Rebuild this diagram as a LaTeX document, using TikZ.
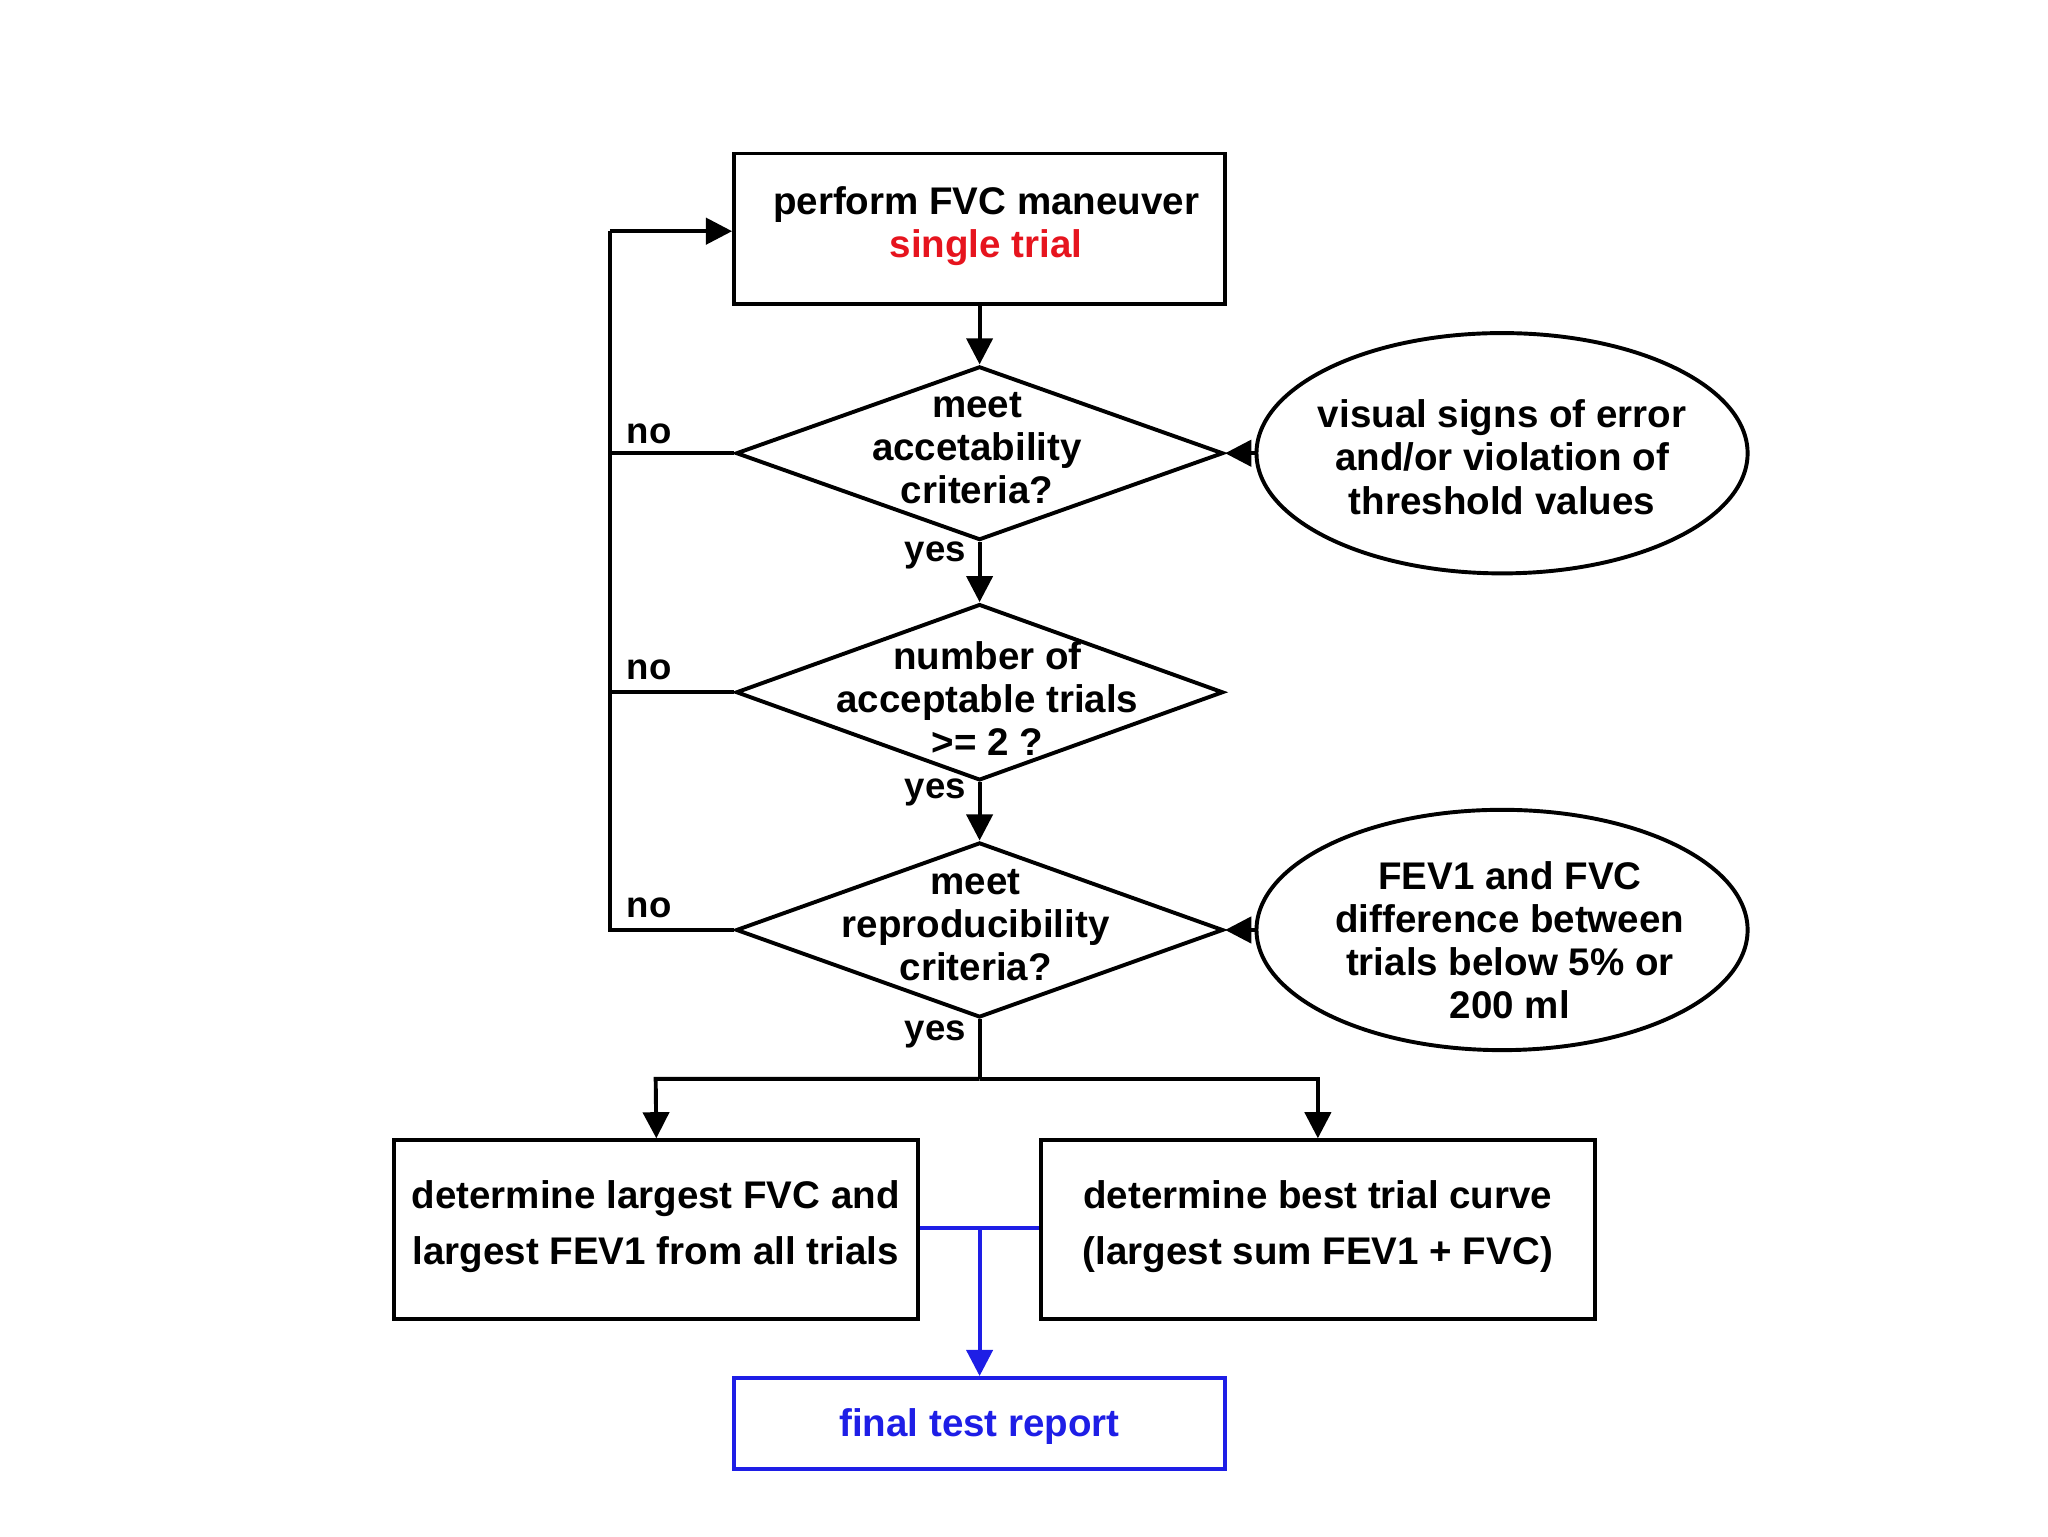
\documentclass[tikz,border=0pt]{standalone}
\usepackage{fontspec}
\setmainfont{Liberation Sans}
\usetikzlibrary{shapes.geometric,arrows.meta}
\definecolor{myblue}{RGB}{30,30,230}
\definecolor{myred}{RGB}{230,20,30}
\begin{document}
\begin{tikzpicture}[x=1pt,y=-1pt,
  txt/.style={font=\fontsize{29.5}{33}\selectfont\bfseries,align=center,inner sep=0},
  box/.style={draw,line width=3pt,inner sep=0},
  ln/.style={line width=3pt},
  ar/.style={ln,-{Triangle[length=20pt,width=20pt]}},
  lab/.style={font=\fontsize{28}{30}\selectfont\bfseries,inner sep=0}]
\useasboundingbox (0,0) rectangle (1568,1176);
\node[box,minimum width=376pt,minimum height=115pt] (top) at (750,175) {};
\node[txt] (toptxt) at (755,173) {perform FVC maneuver\\\textcolor{myred}{single trial}};
\node[box,diamond,aspect=2.8,minimum width=373pt,minimum height=133pt] (d1) at (750,347) {};
\node[txt] at (748,343) {meet\\accetability\\criteria?};
\node[box,ellipse,minimum width=376pt,minimum height=184pt] (e1) at (1150,347) {};
\node[txt] at (1150,350) {visual signs of error\\and/or violation of\\threshold values};
\node[box,diamond,aspect=2.8,minimum width=373pt,minimum height=135pt] (d2) at (750,530) {};
\node[txt] at (756,535) {number of\\acceptable trials\\>= 2 ?};
\node[box,diamond,aspect=2.8,minimum width=373pt,minimum height=134pt] (d3) at (750,712) {};
\node[txt] at (747,708) {meet\\reproducibility\\criteria?};
\node[box,ellipse,minimum width=376pt,minimum height=184pt] (e2) at (1150,712) {};
\node[txt] at (1156,720) {FEV1 and FVC\\difference between\\trials below 5\% or\\200 ml};
\node[box,minimum width=401pt,minimum height=137pt] (lb) at (502.5,941.5) {};
\node[txt,font=\fontsize{29.5}{43}\selectfont\bfseries] at (502,939) {determine largest FVC and\\largest FEV1 from all trials};
\node[box,minimum width=424pt,minimum height=137pt] (rb) at (1009,941.5) {};
\node[txt,font=\fontsize{29.5}{43}\selectfont\bfseries] at (1009,939) {determine best trial curve\\(largest sum FEV1 + FVC)};
\node[box,draw=myblue,minimum width=376pt,minimum height=70pt] (fin) at (750,1090) {};
\node[txt,text=myblue] at (750,1092) {final test report};
\coordinate (L1) at (467,347); \coordinate (L2) at (467,530); \coordinate (L3) at (467,712);
\coordinate (T) at (467,177); \coordinate (B) at (750,826);
\coordinate (BL) at (502,826); \coordinate (BR) at (1009,826);
\coordinate (J) at (750,940);
\draw[ar] (top) -- (d1.north);
\draw[ar] (d1.south) -- (d2.north);
\draw[ar] (d2.south) -- (d3.north);
\draw[ar] (e1.west) -- (d1.east);
\draw[ar] (e2.west) -- (d3.east);
\draw[ln] (d1.west) -- (L1);
\draw[ln] (d2.west) -- (L2);
\draw[ln] (d3.west) -- (L3) -- (T);
\draw[ar] (T) -- (top.west |- T);
\draw[ln] (d3.south) -- (B);
\draw[ar] (B) -- (BL) -- (lb.north);
\draw[ar] (B) -- (BR) -- (rb.north);
\draw[ln,draw=myblue] (lb.east |- J) -- (rb.west |- J);
\draw[ar,draw=myblue,fill=myblue] (J) -- (fin.north);
\node[lab] at (497,332) {no};
\node[lab] at (497,513) {no};
\node[lab] at (497,695) {no};
\node[lab] at (716,425) {yes};
\node[lab] at (716,607) {yes};
\node[lab] at (716,792) {yes};
\end{tikzpicture}
\end{document}
